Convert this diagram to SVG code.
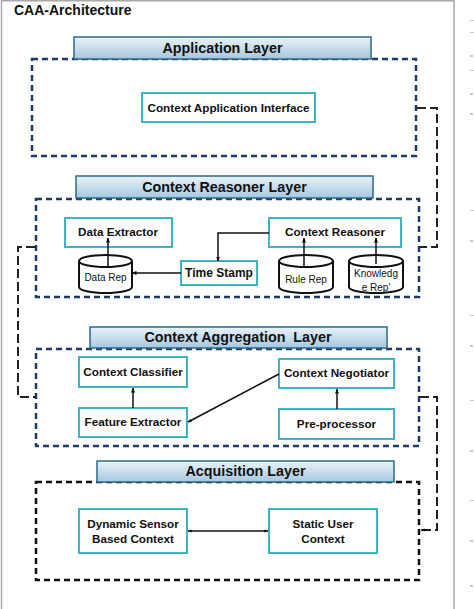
<svg xmlns="http://www.w3.org/2000/svg" width="474" height="609" viewBox="0 0 474 609">
<defs>
  <linearGradient id="hdr" x1="0" y1="0" x2="0" y2="1">
    <stop offset="0" stop-color="#eaf3fa"/>
    <stop offset="1" stop-color="#a6c7df"/>
  </linearGradient>
  <marker id="ah" viewBox="0 0 10 10" refX="9" refY="5" markerWidth="5" markerHeight="5" orient="auto-start-reverse" markerUnits="userSpaceOnUse">
    <path d="M0,1 L10,5 L0,9 z" fill="#111"/>
  </marker>
  <marker id="ahs" viewBox="0 0 10 10" refX="9" refY="5" markerWidth="4" markerHeight="4" orient="auto-start-reverse" markerUnits="userSpaceOnUse">
    <path d="M0,1 L10,5 L0,9 z" fill="#111"/>
  </marker>
</defs>
<style>
  .frame{fill:#fff;stroke:#a8a8a8;stroke-width:1.5}
  .layer{fill:none;stroke:#1c3a66;stroke-width:2.5;stroke-dasharray:6 4}
  .layerk{fill:none;stroke:#111;stroke-width:2.5;stroke-dasharray:6 4}
  .hdr{fill:url(#hdr);stroke:#2b6a8c;stroke-width:1.5}
  .box{fill:#fff;stroke:#3cb4c4;stroke-width:2}
  .cyl{fill:#fff;stroke:#111;stroke-width:2}
  .ln{fill:none;stroke:#111;stroke-width:1.5}
  .dash{fill:none;stroke:#222;stroke-width:2;stroke-dasharray:9 4}
  text{font-family:"Liberation Sans",Arial,sans-serif;fill:#111;text-anchor:middle}
  .t{font-size:14px;font-weight:bold;text-anchor:start}
  .h{font-size:14.3px;font-weight:bold;white-space:pre}
  .b{font-size:11.7px;font-weight:bold}
  .c{font-size:10px}
</style>
<rect class="frame" x="1.5" y="0.75" width="452.5" height="620"/>
<g fill="#c8c8c8">
  <rect x="470" y="20" width="4" height="1"/>
  <rect x="470" y="32" width="4" height="1"/>
  <rect x="470" y="55" width="3" height="2"/>
  <rect x="470" y="70" width="4" height="1"/>
  <rect x="470" y="93" width="3" height="2"/>
  <rect x="470" y="113" width="3" height="2"/>
  <rect x="470" y="210" width="4" height="1"/>
  <rect x="470" y="240" width="3" height="2"/>
  <rect x="470" y="315" width="4" height="1"/>
  <rect x="470" y="345" width="3" height="2"/>
  <rect x="470" y="400" width="4" height="1"/>
  <rect x="470" y="450" width="3" height="2"/>
  <rect x="470" y="500" width="4" height="1"/>
  <rect x="470" y="540" width="3" height="2"/>
  <rect x="470" y="585" width="3" height="2"/>
</g>
<text class="t" x="14" y="15">CAA-Architecture</text>

<g id="application-layer">
  <rect class="layer" x="32" y="59" width="384" height="97"/>
  <rect class="hdr" x="74" y="37" width="297" height="22"/>
  <text class="h" x="222.5" y="53">Application Layer</text>
</g>
<g id="context-application-interface">
  <rect class="box" x="142" y="93" width="173" height="29"/>
  <text class="b" x="228.5" y="111.5">Context Application Interface</text>
</g>

<g id="context-reasoner-layer">
  <rect class="layer" x="36" y="199" width="383" height="98"/>
  <rect class="hdr" x="76" y="176" width="297" height="22"/>
  <text class="h" x="224.5" y="192">Context Reasoner Layer</text>
</g>
<g id="data-extractor">
  <rect class="box" x="65" y="218" width="107" height="29"/>
  <text class="b" x="118" y="236">Data Extractor</text>
</g>
<g id="context-reasoner">
  <rect class="box" x="269" y="218" width="132" height="29"/>
  <text class="b" x="335" y="236">Context Reasoner</text>
</g>
<g id="time-stamp">
  <rect class="box" x="181" y="261" width="76" height="24"/>
  <text class="b" x="219" y="277" style="font-size:12px">Time Stamp</text>
</g>
<g id="data-rep">
  <path class="cyl" d="M79,261 V287 A26.5,6 0 0 0 132,287 V261"/>
  <ellipse class="cyl" cx="105.5" cy="261" rx="26.5" ry="6"/>
  <text class="c" x="105.5" y="281">Data Rep</text>
</g>
<g id="rule-rep">
  <path class="cyl" d="M279,261 V287 A27,6 0 0 0 333,287 V261"/>
  <ellipse class="cyl" cx="306" cy="261" rx="27" ry="6"/>
  <text class="c" x="306" y="283">Rule Rep</text>
</g>
<g id="knowledge-rep">
  <path class="cyl" d="M349,261 V287 A27,6 0 0 0 403,287 V261"/>
  <ellipse class="cyl" cx="376" cy="261" rx="27" ry="6"/>
  <text class="c" x="376" y="277">Knowledg</text>
  <text class="c" x="376" y="291">e Rep'</text>
</g>

<g id="context-aggregation-layer">
  <rect class="layer" x="36" y="349" width="383" height="97"/>
  <rect class="hdr" x="90" y="327" width="297" height="21"/>
  <text class="h" x="238" y="342">Context Aggregation  Layer</text>
</g>
<g id="context-classifier">
  <rect class="box" x="79" y="357" width="108" height="30"/>
  <text class="b" x="133" y="376">Context Classifier</text>
</g>
<g id="feature-extractor">
  <rect class="box" x="79" y="408" width="108" height="29"/>
  <text class="b" x="133" y="426">Feature Extractor</text>
</g>
<g id="context-negotiator">
  <rect class="box" x="279" y="359" width="115" height="29"/>
  <text class="b" x="336.5" y="377">Context Negotiator</text>
</g>
<g id="pre-processor">
  <rect class="box" x="279" y="409" width="115" height="30"/>
  <text class="b" x="336.5" y="428">Pre-processor</text>
</g>

<g id="acquisition-layer">
  <rect class="layerk" x="36" y="482" width="383" height="98"/>
  <rect class="hdr" x="97" y="461" width="297" height="21"/>
  <text class="h" x="245.5" y="476">Acquisition Layer</text>
</g>
<g id="dynamic-sensor">
  <rect class="box" x="79" y="509" width="108" height="44"/>
  <text class="b" x="133" y="528">Dynamic Sensor</text>
  <text class="b" x="133" y="543">Based Context</text>
</g>
<g id="static-user">
  <rect class="box" x="269" y="509" width="108" height="44"/>
  <text class="b" x="323" y="528">Static User</text>
  <text class="b" x="323" y="543">Context</text>
</g>

<g id="connectors">
  <path class="dash" d="M417,108 H437 V247 H420"/>
  <path class="dash" d="M35,247 H18 V397 H36"/>
  <path class="dash" d="M420,397 H437 V530 H423"/>
  <path class="ln" d="M431,530 H421" stroke-width="1.2" marker-end="url(#ahs)"/>
  <path class="ln" d="M108,266 V238" marker-end="url(#ah)"/>
  <path class="ln" d="M304,266 V238" marker-end="url(#ah)"/>
  <path class="ln" d="M376,264 V238" marker-end="url(#ah)"/>
  <path class="ln" d="M269,233 H218 V261" marker-end="url(#ah)"/>
  <path class="ln" d="M181,273 H132" marker-end="url(#ah)"/>
  <path class="ln" d="M133,408 V388" marker-end="url(#ah)"/>
  <path class="ln" d="M337,409 V389" marker-end="url(#ah)"/>
  <path class="ln" d="M279,374 L188,422" marker-end="url(#ahs)"/>
  <path class="ln" d="M188,531 H268" stroke-width="1.2" marker-start="url(#ahs)" marker-end="url(#ahs)"/>
</g>
</svg>
